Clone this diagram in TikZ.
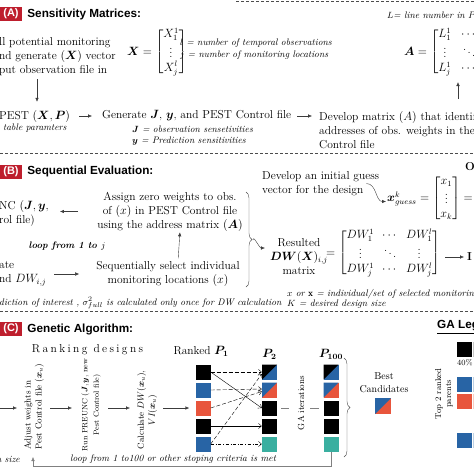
\documentclass[tikz,border=0pt]{standalone}
\usepackage{amsmath,bm}
\usepackage{fontspec}
\newfontfamily\headfont{Liberation Sans}
\usetikzlibrary{arrows.meta,decorations.pathreplacing,positioning,calc}

\definecolor{hdrred}{RGB}{190,30,45}
\definecolor{gablue}{RGB}{40,100,165}
\definecolor{gared}{RGB}{232,85,60}
\definecolor{gateal}{RGB}{58,175,160}
\definecolor{arrgray}{RGB}{60,60,60}
\newcommand{\lgap}{\kern2.4pt}

\tikzset{
  main/.style={inner sep=0pt, font=\fontsize{11.5}{14}\selectfont},
  note/.style={inner sep=0pt, font=\fontsize{9.5}{11.5}\selectfont\itshape},
  hdr/.style={fill=hdrred, text=white, inner sep=0pt, minimum width=22pt, minimum height=14pt,
    font=\headfont\bfseries\fontsize{11}{12}\selectfont},
  hdrtxt/.style={inner sep=0pt, font=\headfont\bfseries\fontsize{11.75}{13}\selectfont},
  flow/.style={draw=arrgray, thin, -{Latex[length=4pt,width=3.5pt]}},
  cross/.style={draw=black, thin, -{Straight Barb[length=3pt,width=5pt]}},
  sep/.style={draw=black!70, thick, dash pattern=on 3pt off 2pt},
  cell/.style={inner sep=0pt, minimum size=15pt},
  halfcell/.style 2 args={fill=#2, path picture={\fill[#1] (path picture bounding box.north west)
    -- (path picture bounding box.north east) -- (path picture bounding box.south west) -- cycle;}},
  brace/.style={decorate, decoration={brace, amplitude=6pt}, draw=black!70, thin},
  rot/.style={inner sep=0pt, rotate=90, align=center, font=\fontsize{8.8}{11}\selectfont},
}

\begin{document}
\begin{tikzpicture}[x=1pt,y=-1pt]
  \useasboundingbox (0,0) rectangle (474,474);
  \clip (0,0) rectangle (474,474);

  % (A) sensitivity matrices
  \node[hdr] (hdrA) at (11,14) {(A)};
  \node[hdrtxt, right=5pt of hdrA] (titleA) {Sensitivity Matrices:};
  \draw[sep] (236,1.5) -- (474,1.5);

  \node[main, anchor=west, align=left] (find) at (-1,57) {ll potential monitoring\\nd generate $(\boldsymbol{X})$ vector\\put observation file in};
  \node[main, anchor=west] (runpest) at (-1,116) {PEST $(\boldsymbol{X}, \boldsymbol{P})$};
  \node[note, anchor=west] (runnote) at (3,128) {table paramters};
  \coordinate (fd) at (37,0);
  \draw[flow, shorten <=3pt, shorten >=8pt] (find.south -| fd) -- (runpest.north -| fd);

  \node[main, anchor=west] (gen) at (102,116) {Generate $\boldsymbol{J}$, $\boldsymbol{y}$, and PEST Control file};
  \draw[flow] ([xshift=9pt]runpest.east) -- ([xshift=-10pt]gen.west);
  \node[note, anchor=west, align=left] (gennote) at (132,135.5) {$\boldsymbol{J}$ = observation sensetivities\\$\boldsymbol{y}$ = Prediction sensitivities};

  \node[main, anchor=west, align=left] (dev) at (319,130) {Develop matrix $(A)$ that identifies the\\addresses of obs. weights in the PEST\\Control file};
  \draw[flow] ([xshift=6pt]gen.east) -- ([xshift=-7pt]gen.east -| dev.west);

  \node[main, anchor=west] (Xmat) at (127,52) {$\boldsymbol{X} = \begin{bmatrix} X_1^1\\ \vdots\\ X_j^l \end{bmatrix}$};
  \node[note, anchor=west, align=left] (Xnote) at (180,49) {$l$ = number of temporal observations\\$j$ = number of monitoring locations};

  \node[note, anchor=west] (Lnote) at (387,16) {$L$= line number in PEST Control file};
  \node[main, anchor=west] (Amat) at (404,52) {$\boldsymbol{A} = \begin{bmatrix} L_1^1 & \cdots & L_1^l\\ \vdots & \ddots & \vdots\\ L_j^1 & \cdots & L_j^l \end{bmatrix}$};
  \coordinate (up) at (458,0);
  \draw[flow, shorten <=12pt, shorten >=6pt] (dev.north -| up) -- (Amat.south -| up);

  \draw[sep] (0,153) -- (474,153);

  % (B) sequential evaluation
  \node[hdr] (hdrB) at (11,171.5) {(B)};
  \node[hdrtxt, right=5pt of hdrB] (titleB) {Sequential Evaluation:};
  \node[main, anchor=west, font=\fontsize{11.5}{14}\selectfont\bfseries] (opt) at (465,168) {Optimal};

  \node[main, anchor=west, align=left] (preunc) at (-1,213.5) {NC $(\boldsymbol{J}, \boldsymbol{y}$,\\rol file)};
  \node[main, align=center] (assign) at (170,211.5) {Assign zero weights to obs.\\of $(x)$ in PEST Control file\\using the address matrix $(\boldsymbol{A})$};
  \draw[flow, shorten <=19pt, shorten >=11pt] (assign.west) -- (assign.west -| preunc.east);
  \node[note, font=\fontsize{9.5}{11.5}\selectfont\bfseries\itshape] (loopj) at (67,246) {loop from 1 to $j$};

  \node[main, anchor=west, align=left] (calcvi) at (-1,274) {ate\\nd $DW_{i,j}$};
  \node[main, align=center] (select) at (168,274) {Sequentially select individual\\monitoring locations $(x)$};
  \draw[flow, shorten <=8pt, shorten >=17pt] (calcvi.east |- select.west) -- (select.west);
  \draw[flow, shorten <=3pt, shorten >=1pt] ([xshift=10pt]select.north) -- ([xshift=10pt]assign.south);

  \draw[brace] (246,192) -- (246,287);
  \coordinate (btip) at (253,240);
  \node[main, align=center] (dwtxt) at (299,257) {Resulted\\$\boldsymbol{DW}(\boldsymbol{X})_{i,j}$\\matrix};
  \draw[flow] (btip) to[out=90, in=180] ([xshift=-5pt,yshift=9pt]dwtxt.west);
  \node[main, anchor=west] (dwmat) at (326,253) {\setlength{\arraycolsep}{4pt}$= \begin{bmatrix} DW_1^1 & \cdots & DW_1^l\\ \vdots & \ddots & \vdots\\ DW_j^1 & \cdots & DW_j^l \end{bmatrix}$};
  \node[main, anchor=west, font=\fontsize{11.5}{14}\selectfont\bfseries] (vi) at (467,257) {I};
  \draw[flow, shorten <=5pt, shorten >=3pt] (dwmat.east |- vi.west) -- (vi.west);

  \node[main, anchor=west, align=left] (guess) at (262,183.5) {Develop an initial guess\\vector for the design};
  \node[main, anchor=west] (xguess) at (387,198.5) {$\boldsymbol{x}^k_{guess} = \begin{bmatrix} x_1\\ \vdots\\ x_k \end{bmatrix} =$};
  \draw[flow] ([xshift=-13pt]guess.east) to[out=0, in=180] ([xshift=-1pt,yshift=-3pt]xguess.west);

  \node[note, anchor=west] (fullnote) at (-1,303) {diction of interest , $\sigma^2_{full}$ is calculated only once for DW calculation};
  \node[note, anchor=west, align=left, font=\fontsize{9.5}{10.5}\selectfont\itshape] (xnote) at (287,299) {$x$ or $\mathbf{x}$ = individual/set of selected\ monitoring locations\\$K$ = desired design size};

  \draw[sep] (0,311) -- (474,311);

  % (C) genetic algorithm
  \node[hdr] (hdrC) at (11,329) {(C)};
  \node[hdrtxt, right=5pt of hdrC] (titleC) {Genetic Algorithm:};
  \node[hdrtxt, anchor=west] (legend) at (437,327) {\underline{GA Legend}};

  \node[main] (rank) at (87.5,350) {R\lgap a\lgap n\lgap k\lgap i\lgap n\lgap g\ \lgap d\lgap e\lgap s\lgap i\lgap g\lgap n\lgap s};
  \node[main] (ranked) at (201,351) {Ranked $\boldsymbol{P_1}$};

  \node[rot, align=left] (adj) at (34,407) {Adjust weights in\\Pest Control file $(\boldsymbol{x}_u)$};
  \node[rot, font=\fontsize{7.6}{11.5}\selectfont] (prun) at (91,405) {Run PREUNC $(\boldsymbol{J}, \boldsymbol{y}$, new\\Pest Control file)};
  \node[rot] (calcdw) at (147,410) {Calculate $DW(\boldsymbol{x}_u)$,\\$VI(\boldsymbol{x}_u)$};

  \foreach \c [count=\i] in {black,gablue,gared,black,gablue}
    \node[cell, fill=\c] (p1-\i) at (203,354+18*\i) {};
  \foreach \col/\xx in {p2/269.5, p100/331} {
    \node[cell, halfcell={black}{gablue}] (\col-1) at (\xx,372) {};
    \node[cell, halfcell={gablue}{gared}] (\col-2) at (\xx,390) {};
    \node[cell, fill=black] (\col-3) at (\xx,408) {};
    \node[cell, fill=black] (\col-4) at (\xx,426) {};
    \node[cell, fill=gateal] (\col-5) at (\xx,444) {};
  }
  \node[main, above=5pt of p2-1] (P2lbl) {$\boldsymbol{P_2}$};
  \node[main, above=5pt of p100-1] (P100lbl) {$\boldsymbol{P_{100}}$};

  \coordinate (cin) at (-8,408);
  \draw[flow] (cin) -- ($(adj.center |- cin)+(-17,0)$);
  \draw[flow] ($(adj.center |- cin)+(16,0)$) -- ($(prun.center |- cin)+(-19,0)$);
  \draw[flow] ($(prun.center |- cin)+(17,0)$) -- ($(calcdw.center |- cin)+(-17,0)$);
  \draw[flow, shorten >=6pt] ($(calcdw.center |- cin)+(16,0)$) -- (p1-3.west);

  % crossover and mutation
  \draw[cross, dash pattern=on 4pt off 2pt] (p1-1.east) -- (p2-1.west);
  \draw[cross] (p1-1.east) -- (p2-3.west);
  \draw[cross, dash pattern=on 4pt off 2pt] (p1-2.east) -- ([yshift=1pt]p2-2.west);
  \draw[cross, dash pattern=on 4pt off 2pt] (p1-3.east) -- ([yshift=-1.5pt]p2-2.west);
  \draw[cross] (p1-4.east) -- (p2-4.west);
  \draw[cross, dash pattern=on 4pt off 2pt] (p1-5.east) -- ([yshift=-2pt]p2-1.west);
  \draw[cross, dash dot] (p1-5.east) -- (p2-5.west);

  \node[rot] (gaiter) at (301,403) {GA iterations};
  \draw[gray] ($(p2-3.east)+(4,0)$) -- ($(p2-3.east -| gaiter.center)+(-12,0)$);
  \draw[gray] ($(p2-3.east -| gaiter.center)+(9,0)$) -- ($(p100-3.west)+(-4,0)$);

  \draw[brace] (344,358) -- (344,457);
  \node[main, align=center, font=\fontsize{10}{13}\selectfont] (best) at (384,382.5) {Best\\Candidates};
  \node[cell, halfcell={gablue}{gared}, minimum size=16pt] (bestc) at (383,406) {};

  \coordinate (lp) at (33,466);
  \draw[flow, draw=gray] (p100-5.south) |- (lp) -- ++(0,-9);
  \node[note, anchor=west] (looptxt) at (70,459) {loop from 1 to100 or other stoping criteria is met};
  \node[note, anchor=east] (dsize) at (20,459) {n size};

  % legend
  \node[cell, fill=black] (lg1) at (464.5,349.5) {};
  \node[main, anchor=west, font=\fontsize{8}{9}\selectfont] (lg40) at (457,363) {40\%};
  \node[rot, font=\fontsize{8.5}{10}\selectfont] (lgtop) at (444,394) {Top 2 ranked\\parents};
  \node[cell, fill=gablue] (lg2) at (464.5,384) {};
  \node[cell, fill=gared] (lg3) at (464.5,401.5) {};
  \node[cell, fill=gablue] (lg4) at (464.5,440.5) {};
  \foreach \n/\c in {lg1/gray!45, lg2/gablue!30, lg3/gared!30, lg4/gablue!30}
    \node[cell, fill=\c, right=1pt of \n] {};
\end{tikzpicture}
\end{document}
